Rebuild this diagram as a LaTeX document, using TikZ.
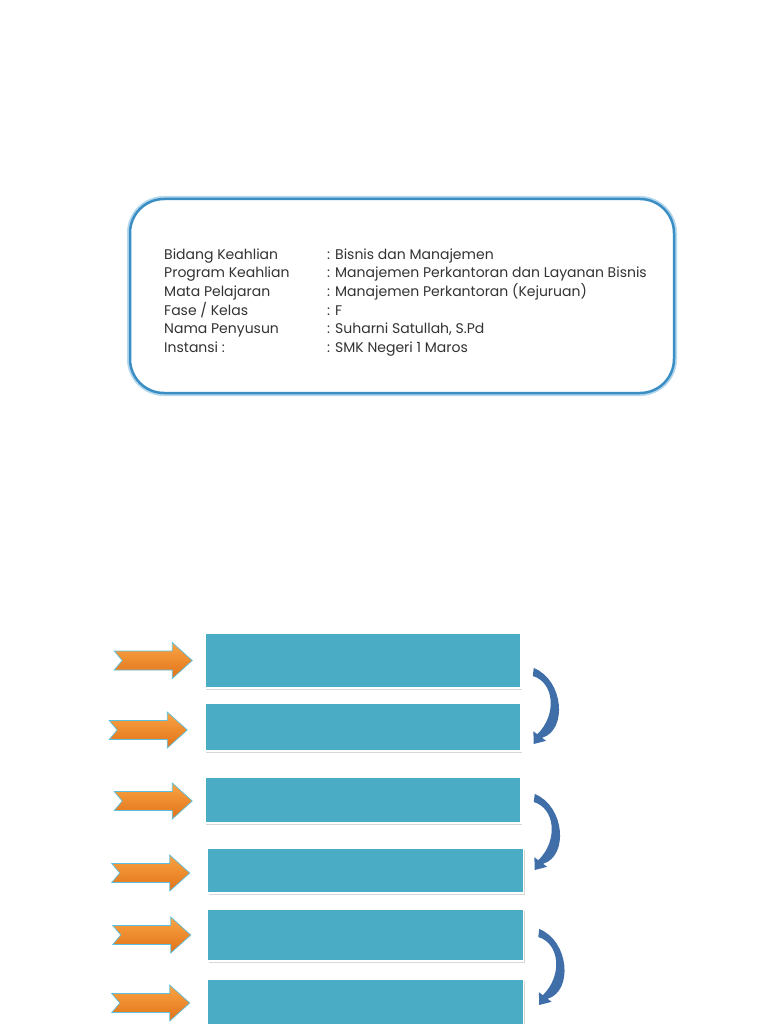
\documentclass[tikz,border=0pt]{standalone}
\usepackage{fontspec}
\setmainfont{Poppins}
\usepackage{tikz}
\usetikzlibrary{positioning, calc, shadows}

\definecolor{barteal}{HTML}{4BACC6}
\definecolor{boxblue}{HTML}{3A8EC4}
\definecolor{boxglow}{HTML}{B5D8EE}
\definecolor{arrowtop}{HTML}{F9A444}
\definecolor{arrowbot}{HTML}{E2721A}
\definecolor{arrowedge}{HTML}{5BC0DE}
\definecolor{bendblue}{HTML}{3F6EA8}
\definecolor{textgray}{HTML}{333333}

\begin{document}
\begin{tikzpicture}[
    x=1pt, y=-1pt,
    infobox/.style={draw=boxblue, line width=2.5pt, rounded corners=34pt, fill=white, minimum width=544pt, minimum height=194pt, preaction={draw=boxglow, line width=6pt}},
    bar/.style={draw=white, line width=1.5pt, fill=barteal, minimum width=316pt, minimum height=#1, drop shadow={shadow xshift=1.2pt, shadow yshift=-1.5pt, fill=black!30}},
    pics/pointer/.style={code={
        \path[top color=arrowtop, bottom color=arrowbot, draw=arrowedge, line width=0.7pt]
            (0,0) -- (-20,-18) -- (-20,-9.5) -- (-78,-9.5) -- (-70,0) -- (-78,9.5) -- (-20,9.5) -- (-20,18) -- cycle;
    }},
    pics/bend/.style={code={
        \fill[bendblue] (0,-2) .. controls (30,10) and (34,60) .. (8.4,67.8) -- (12.4,70.8) -- (0,74) -- (-0.4,61.2) -- (3.6,64.2) .. controls (24,44) and (20,12) .. (-1,6) -- cycle;
    }}
]
    \useasboundingbox (0,0) rectangle (768,1024);

    % ================= INFO BOX =================
    \node[infobox] (BOX) at (402,296) {};
    \node[anchor=base west, inner sep=0pt, text=textgray] (INFO) at (164,259) {%
        \fontsize{14}{18.6}\selectfont
        \begin{tabular}[t]{@{}p{163pt}@{}l@{}}
            Bidang Keahlian & : Bisnis dan Manajemen\\
            Program Keahlian & : Manajemen Perkantoran dan Layanan Bisnis\\
            Mata Pelajaran & : Manajemen Perkantoran (Kejuruan)\\
            Fase / Kelas & : F\\
            Nama Penyusun & : Suharni Satullah, S.Pd\\
            Instansi : & : SMK Negeri 1 Maros
        \end{tabular}};

    % ================= BARS =================
    \node[bar=55pt] (BAR1) at (363,660.5) {};
    \node[bar=48pt] (BAR2) at (363,727) {};
    \node[bar=46pt] (BAR3) at (363,800) {};
    \node[bar=45pt] (BAR4) at (365.5,870.5) {};
    \node[bar=52pt] (BAR5) at (365.5,935) {};
    \node[bar=48pt] (BAR6) at (365.5,1003) {};

    % ================= ORANGE ARROWS =================
    \pic at ($(BAR1.west)+(-12,0)$) {pointer};
    \pic at ($(BAR2.west)+(-17,3)$) {pointer};
    \pic at ($(BAR3.west)+(-12,1)$) {pointer};
    \pic at ($(BAR4.west)+(-17,2.5)$) {pointer};
    \pic at ($(BAR5.west)+(-16,0)$) {pointer};
    \pic at ($(BAR6.west)+(-17,0)$) {pointer};

    % ================= CURVED ARROWS =================
    \pic at ($(BAR1.east)+(12,9.5)$) {bend};
    \pic at ($(BAR3.east)+(13,-4)$) {bend};
    \pic at ($(BAR5.east)+(15,-4)$) {bend};

\end{tikzpicture}
\end{document}
